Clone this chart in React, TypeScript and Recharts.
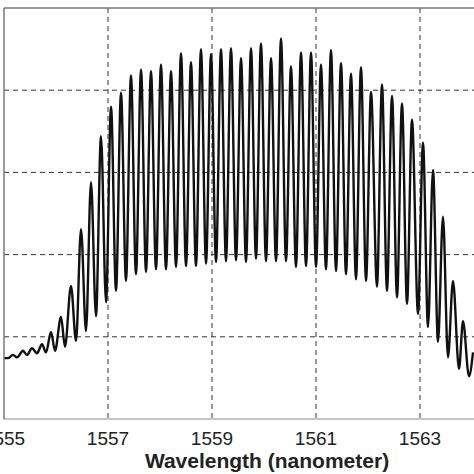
import { LineChart, Line, XAxis, YAxis, CartesianGrid, ReferenceLine, Label } from "recharts";

// peaks and troughs of the fringe spectrum
const wavelength = [
  1555.0, 1555.077, 1555.173, 1555.25, 1555.365, 1555.442, 1555.538, 1555.635, 1555.731, 1555.808,
  1555.904, 1555.981, 1556.096, 1556.173, 1556.288, 1556.385, 1556.481, 1556.577, 1556.673, 1556.769,
  1556.865, 1556.962, 1557.058, 1557.154, 1557.25, 1557.346, 1557.442, 1557.538, 1557.635, 1557.731,
  1557.827, 1557.923, 1558.019, 1558.115, 1558.212, 1558.308, 1558.404, 1558.5, 1558.596, 1558.692,
  1558.788, 1558.885, 1558.981, 1559.077, 1559.173, 1559.269, 1559.365, 1559.462, 1559.558, 1559.654,
  1559.75, 1559.846, 1559.942, 1560.038, 1560.135, 1560.231, 1560.327, 1560.423, 1560.519, 1560.615,
  1560.712, 1560.808, 1560.904, 1561.0, 1561.096, 1561.192, 1561.288, 1561.385, 1561.481, 1561.577,
  1561.673, 1561.769, 1561.865, 1561.962, 1562.058, 1562.173, 1562.269, 1562.365, 1562.462, 1562.558,
  1562.654, 1562.75, 1562.846, 1562.962, 1563.058, 1563.154, 1563.25, 1563.346, 1563.442, 1563.538,
  1563.635, 1563.75, 1563.827, 1563.942, 1564.019,
];

const power = [
  -62.6, -62.6, -62.2, -62.5, -61.7, -62.2, -61.4, -62.0, -60.9, -61.9,
  -59.4, -61.7, -57.6, -61.2, -53.8, -60.5, -46.9, -59.3, -41.2, -57.5,
  -35.6, -55.8, -32.0, -54.4, -30.3, -53.2, -28.2, -52.4, -27.5, -52.1,
  -27.7, -51.8, -26.9, -51.8, -27.7, -51.5, -25.5, -51.4, -26.6, -51.4,
  -25.0, -51.1, -25.6, -50.9, -25.0, -50.8, -24.9, -50.7, -26.1, -50.9,
  -24.9, -50.5, -24.3, -50.8, -26.1, -50.8, -23.7, -50.8, -27.1, -51.5,
  -25.4, -51.4, -25.4, -51.5, -26.9, -51.8, -25.1, -52.0, -26.7, -52.4,
  -28.0, -53.0, -27.2, -53.2, -30.2, -53.9, -29.3, -54.4, -30.7, -55.2,
  -31.6, -56.0, -33.6, -57.2, -36.4, -58.8, -39.7, -60.6, -45.4, -62.5,
  -53.2, -63.9, -58.1, -64.8, -61.9,
];

const xTicks = [1555, 1557, 1559, 1561, 1563];
const yTicks = [-70, -60, -50, -40, -30, -20];
const xGrid = [1557, 1559, 1561, 1563];
const yGrid = [-60, -50, -40, -30];

const data = wavelength.map((w, i) => ({ w, p: power[i] }));

const font = "'Liberation Sans', Arial, sans-serif";

export default function App() {
  return (
    <div style={{ position: "absolute", left: 0, top: 0, width: 474, height: 474, overflow: "hidden", background: "#fff" }}>
      <div style={{ marginLeft: -40 }}>
        <LineChart width={574} height={474} data={data} margin={{ top: 8, right: 10, left: 0, bottom: 0 }}>
          <CartesianGrid stroke="#333" strokeDasharray="5 4" horizontal={false} verticalValues={xGrid} />
          {yGrid.map((v) => (
            <ReferenceLine key={v} y={v} stroke="#333" strokeDasharray="5 4" />
          ))}
          <ReferenceLine y={-20} stroke="#777" strokeWidth={1.5} />
          <XAxis
            type="number"
            dataKey="w"
            domain={[1555, 1565]}
            ticks={xTicks}
            allowDataOverflow
            height={55}
            tickLine={false}
            tickSize={0}
            tickMargin={13}
            stroke="#888"
            tick={{ fill: "#222", fontSize: 19, fontFamily: font }}
          >
            <Label
              value="Wavelength (nanometer)"
              position="insideBottom"
              offset={6}
              dx={3}
              style={{ fontSize: 21, fontWeight: "bold", fontFamily: font, fill: "#222" }}
            />
          </XAxis>
          <YAxis type="number" domain={[-70, -20]} ticks={yTicks} width={44} tick={false} tickLine={false} stroke="#777" strokeWidth={1.5} />
          <Line
            type="monotone"
            dataKey="p"
            stroke="#111"
            strokeWidth={2.4}
            dot={false}
            isAnimationActive={false}
          />
        </LineChart>
      </div>
    </div>
  );
}
